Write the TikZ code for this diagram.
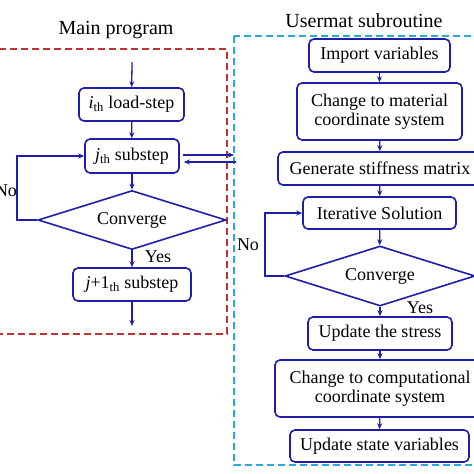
\documentclass[tikz,border=0pt]{standalone}
\usepackage{fontspec}
\setmainfont{Liberation Serif}
\usetikzlibrary{arrows.meta,shapes.geometric,calc}
\definecolor{boxblue}{RGB}{30,30,170}
\definecolor{redd}{RGB}{190,50,50}
\definecolor{cyand}{RGB}{40,170,210}
\newcommand{\subth}{\textsubscript{th}}
\tikzset{
  every node/.style={font=\fontsize{18}{19}\selectfont, text=black},
  stepbox/.style={draw=boxblue, line width=1.6pt, rounded corners=5pt, inner sep=0pt, align=center},
  decision/.style={draw=boxblue, line width=1.6pt, diamond, aspect=3.2, inner sep=0pt},
  flow/.style={draw=boxblue, line width=1.3pt, -{Stealth[length=6pt,width=5pt]}},
  titletext/.style={font=\fontsize{20}{22}\selectfont},
  lbl/.style={inner sep=0pt},
}
\begin{document}
\begin{tikzpicture}[x=1pt,y=-1pt]
\useasboundingbox (0,0) rectangle (474,474);
\fill[white] (0,0) rectangle (474,474);
% frames
\draw[redd, line width=1.4pt, dash pattern=on 7pt off 4pt] (-5,49) rectangle (227,334);
\draw[cyand, line width=1.4pt, dash pattern=on 7pt off 4pt] (234,36) rectangle (490,465);
\node[titletext] (t1) at (116,30) {Main program};
\node[titletext] (t2) at (364,21) {Usermat subroutine};
% left column
\coordinate (s0) at (132,62);
\node[stepbox, minimum width=105pt, minimum height=33pt] (ith) at (131.5,104.5) {\textit{i}\subth\ load-step};
\node[stepbox, minimum width=94pt, minimum height=34pt] (jth) at (132,156) {\textit{j}\subth\ substep};
\node[decision, minimum width=188pt, minimum height=59pt] (c1) at (132,220) {Converge};
\node[stepbox, minimum width=118pt, minimum height=33pt] (j1) at (132,284.5) {\textit{j}+1\subth\ substep};
\coordinate (e0) at (132,326);
\coordinate (l1) at (17,220);
\node[lbl] (no1) at (6,191) {No};
\node[lbl] (yes1) at (158,257) {Yes};
\draw[flow] (s0) -- (ith);
\draw[flow] (ith) -- (jth);
\draw[flow] (jth) -- (c1);
\draw[flow] (c1) -- (j1);
\draw[flow] (j1) -- (e0);
\draw[flow] (c1.west) -- (l1) |- (jth.west);
% link arrows
\coordinate (r1) at (234,155);
\coordinate (r2) at (236,162);
\draw[flow] ($(jth.east)+(3,-1)$) -- (r1);
\draw[flow] (r2) -- ($(jth.east)+(4,6)$);
% right column
\node[stepbox, minimum width=141pt, minimum height=33pt] (imp) at (379.5,55.5) {Import variables};
\node[stepbox, minimum width=165pt, minimum height=57pt] (mat) at (379.5,111.5) {Change to material\\coordinate system};
\node[stepbox, minimum width=204pt, minimum height=33pt] (gen) at (380,168.5) {Generate stiffness matrix};
\node[stepbox, minimum width=153pt, minimum height=32pt] (itr) at (379.5,213) {Iterative Solution};
\node[decision, minimum width=190pt, minimum height=60pt] (c2) at (380,276) {Converge};
\node[stepbox, minimum width=144pt, minimum height=33pt] (upd) at (380,333.5) {Update the stress};
\node[stepbox, minimum width=210pt, minimum height=57pt] (comp) at (380,388.5) {Change to computational\\coordinate system};
\node[stepbox, minimum width=179pt, minimum height=32pt] (state) at (379.5,446) {Update state variables};
\coordinate (l2) at (265,276);
\node[lbl] (no2) at (248,245) {No};
\node[lbl] (yes2) at (420,308) {Yes};
\draw[flow] (imp) -- (mat);
\draw[flow] (mat) -- (gen);
\draw[flow] (gen) -- (itr);
\draw[flow] (itr) -- (c2);
\draw[flow] (c2) -- (upd);
\draw[flow] (upd) -- (comp);
\draw[flow] (comp) -- (state);
\draw[flow] (c2.west) -- (l2) |- (itr.west);
\end{tikzpicture}
\end{document}
